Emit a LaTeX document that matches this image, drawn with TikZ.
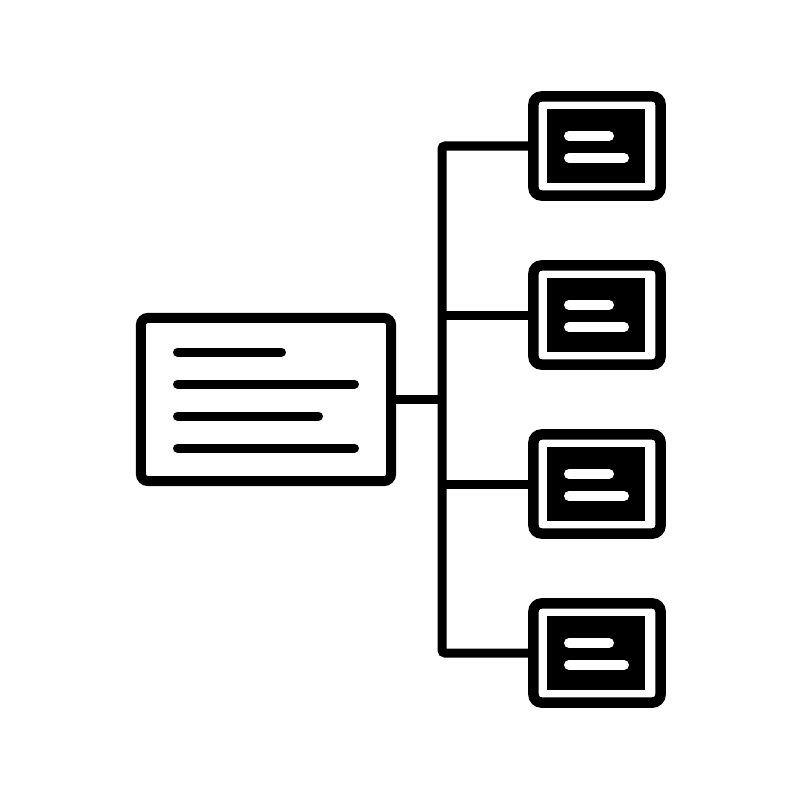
\documentclass[tikz,border=0pt]{standalone}
\begin{document}
\begin{tikzpicture}[x=0.01cm,y=-0.01cm,
  mainbox/.style={draw, line width=0.1cm, rounded corners=0.07cm, minimum width=2.5cm, minimum height=1.63cm, inner sep=0pt, outer sep=0pt},
  leafbox/.style={draw, line width=0.105cm, rounded corners=0.08cm, minimum width=1.27cm, minimum height=0.99cm, inner sep=0pt, outer sep=0pt},
  leaffill/.style={fill=black, minimum width=0.98cm, minimum height=0.73cm, inner sep=0pt, outer sep=0pt},
  wire/.style={line width=0.09cm},
  mainline/.style={line width=0.09cm, line cap=round},
  leafline/.style={white, line width=0.1cm, line cap=round}]
\useasboundingbox[fill=white] (0,0) rectangle (800,800);
% main box
\node[mainbox] (main) at (266,399.5) {};
\draw[mainline] (177.5,352) -- (281.5,352);
\draw[mainline] (177.5,384) -- (354.5,384);
\draw[mainline] (177.5,416) -- (318.5,416);
\draw[mainline] (177.5,448) -- (354.5,448);
% leaves
\foreach \i/\c in {1/146,2/315,3/484,4/653}{
  \node[leafbox] (l\i) at (597,\c) {};
  \node[leaffill] (f\i) at (596,\c) {};
  \draw[leafline] (569,{\c-10}) -- (609,{\c-10});
  \draw[leafline] (569,{\c+12}) -- (624,{\c+12});
}
% connectors
\coordinate (spine) at (442,399.5);
\draw[wire, rounded corners=0.03cm] (l1.west) -| (spine) |- (l4.west);
\draw[wire] (l2.west) -- (l2.west -| spine);
\draw[wire] (l3.west) -- (l3.west -| spine);
\draw[wire] (main.east) -- (spine);
\end{tikzpicture}
\end{document}
